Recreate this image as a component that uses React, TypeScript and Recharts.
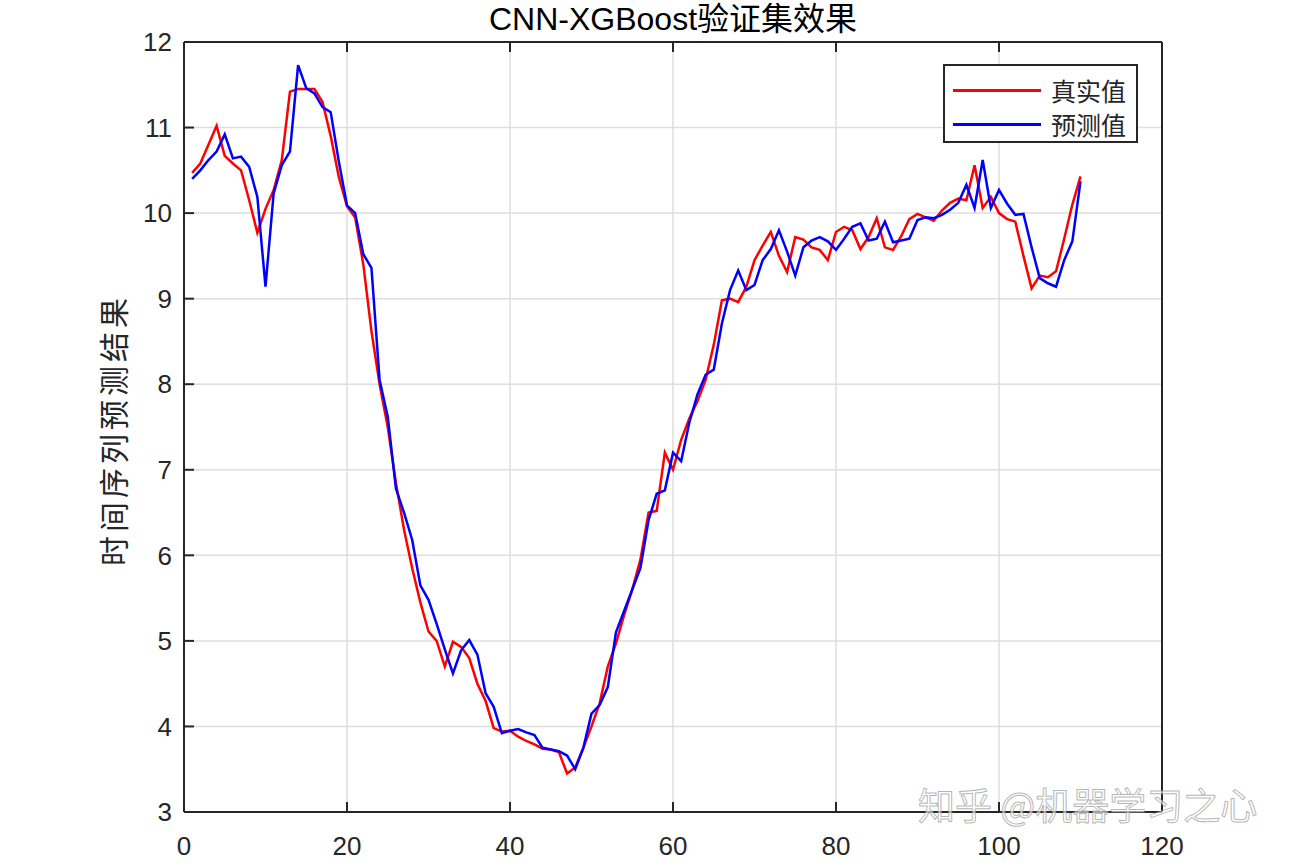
import { LineChart, Line, XAxis, YAxis, CartesianGrid } from 'recharts';

const xs = Array.from({ length: 110 }, (_, i) => i + 1);

const realValues = [
    10.47, 10.58, 10.8, 11.02, 10.67, 10.58, 10.5, 10.15, 9.77, 10.05,
    10.27, 10.62, 11.42, 11.45, 11.45, 11.45, 11.3, 10.9, 10.42, 10.08,
    9.95, 9.4, 8.62, 8.0, 7.5, 6.85, 6.3, 5.85, 5.45, 5.11,
    5.0, 4.7, 4.99, 4.93, 4.8, 4.5, 4.3, 3.98, 3.94, 3.95,
    3.88, 3.83, 3.79, 3.74, 3.73, 3.7, 3.45, 3.52, 3.75, 4.0,
    4.27, 4.7, 4.97, 5.3, 5.6, 5.95, 6.5, 6.52, 7.2, 7.0,
    7.35, 7.6, 7.8, 8.05, 8.46, 8.98, 9.0, 8.96, 9.14, 9.45,
    9.62, 9.78, 9.5, 9.31, 9.72, 9.69, 9.6, 9.57, 9.45, 9.78,
    9.84, 9.8, 9.58, 9.72, 9.94, 9.6, 9.57, 9.73, 9.93, 9.99,
    9.95, 9.91, 10.03, 10.12, 10.17, 10.15, 10.56, 10.06, 10.19, 10.0,
    9.93, 9.9, 9.5, 9.12, 9.27, 9.25, 9.32, 9.7, 10.1, 10.43,
];

const predValues = [
    10.4, 10.5, 10.62, 10.72, 10.92, 10.64, 10.66, 10.54, 10.19, 9.14,
    10.23, 10.56, 10.72, 11.73, 11.46, 11.4, 11.24, 11.18, 10.6, 10.09,
    10.0, 9.52, 9.36, 8.05, 7.62, 6.78, 6.5, 6.18, 5.65, 5.48,
    5.2, 4.9, 4.62, 4.89, 5.01, 4.84, 4.39, 4.23, 3.92, 3.95,
    3.97, 3.93, 3.9, 3.75, 3.73, 3.71, 3.66, 3.5, 3.75, 4.15,
    4.25, 4.46, 5.1, 5.35, 5.6, 5.85, 6.41, 6.72, 6.76, 7.2,
    7.1, 7.55, 7.88, 8.11, 8.17, 8.71, 9.1, 9.33, 9.1, 9.16,
    9.45, 9.58, 9.8, 9.55, 9.27, 9.6, 9.68, 9.72, 9.67, 9.57,
    9.7, 9.84, 9.88, 9.68, 9.7, 9.9, 9.66, 9.68, 9.7, 9.92,
    9.95, 9.94, 9.98, 10.04, 10.12, 10.33, 10.06, 10.62, 10.06, 10.27,
    10.11, 9.98, 9.99, 9.6, 9.24, 9.18, 9.14, 9.45, 9.67, 10.37,
];

const xTicks = [0, 20, 40, 60, 80, 100, 120];
const yTicks = [3, 4, 5, 6, 7, 8, 9, 10, 11, 12];

const data = xs.map((x, i) => ({ x, real: realValues[i], pred: predValues[i] }));

const font = '"Liberation Sans", Arial, "Noto Sans CJK SC", sans-serif';
const axisColor = '#262626';
const tickStyle = { fill: axisColor, fontSize: 26, fontFamily: font };

function LegendBox() {
    const rows = [
        { label: '真实值', color: '#ff0000' },
        { label: '预测值', color: '#0000ff' },
    ];
    return (
        <div
            style={{
                position: 'absolute',
                left: 943,
                top: 64,
                width: 195,
                height: 79,
                border: '2px solid #262626',
                background: '#fff',
                boxSizing: 'border-box',
                padding: '7px 0 0 8px',
            }}
        >
            {rows.map((r) => (
                <div key={r.label} style={{ display: 'flex', alignItems: 'center', height: 34 }}>
                    <div style={{ width: 88, height: 3, background: r.color }} />
                    <span
                        style={{
                            marginLeft: 10,
                            fontSize: 25,
                            color: axisColor,
                            fontFamily: '"Noto Sans CJK SC", sans-serif',
                            lineHeight: '34px',
                        }}
                    >
                        {r.label}
                    </span>
                </div>
            ))}
        </div>
    );
}

export default function App() {
    return (
        <div style={{ position: 'fixed', left: 0, top: 0, width: 1312, height: 866, background: '#fff' }}>
            <div
                style={{
                    position: 'absolute',
                    left: 184,
                    width: 978,
                    top: 0,
                    textAlign: 'center',
                    fontFamily: font,
                    fontSize: 32,
                    lineHeight: '38px',
                    color: '#000',
                }}
            >
                CNN-XGBoost验证集效果
            </div>
            <div
                style={{
                    position: 'absolute',
                    left: 112,
                    top: 430,
                    transform: 'translate(-50%, -50%) rotate(-90deg)',
                    whiteSpace: 'nowrap',
                    fontFamily: '"Noto Sans CJK SC", sans-serif',
                    fontSize: 30,
                    letterSpacing: 4,
                    color: axisColor,
                }}
            >
                时间序列预测结果
            </div>
            <LineChart
                width={1312}
                height={866}
                data={data}
                margin={{ top: 41, right: 149, bottom: 4, left: 104 }}
            >
                <CartesianGrid xAxisId="b" yAxisId="l" stroke="#dedede" strokeWidth={1.5} />
                <XAxis
                    xAxisId="b"
                    dataKey="x"
                    type="number"
                    domain={[0, 120]}
                    ticks={xTicks}
                    height={50}
                    tickSize={-10}
                    tickMargin={35}
                    stroke={axisColor}
                    strokeWidth={2}
                    tick={tickStyle}
                />
                <XAxis
                    xAxisId="t"
                    orientation="top"
                    dataKey="x"
                    type="number"
                    domain={[0, 120]}
                    ticks={xTicks}
                    height={1}
                    tickSize={-10}
                    stroke={axisColor}
                    strokeWidth={2}
                    tick={() => <g />}
                />
                <YAxis
                    yAxisId="l"
                    type="number"
                    domain={[3, 12]}
                    ticks={yTicks}
                    width={80}
                    tickSize={-10}
                    tickMargin={22}
                    stroke={axisColor}
                    strokeWidth={2}
                    tick={tickStyle}
                />
                <YAxis
                    yAxisId="r"
                    orientation="right"
                    type="number"
                    domain={[3, 12]}
                    ticks={yTicks}
                    width={1}
                    tickSize={-10}
                    stroke={axisColor}
                    strokeWidth={2}
                    tick={() => <g />}
                />
                <Line
                    xAxisId="b"
                    yAxisId="l"
                    name="真实值"
                    dataKey="real"
                    stroke="#ff0000"
                    strokeWidth={2.5}
                    dot={false}
                    isAnimationActive={false}
                />
                <Line
                    xAxisId="b"
                    yAxisId="l"
                    name="预测值"
                    dataKey="pred"
                    stroke="#0000ff"
                    strokeWidth={2.5}
                    dot={false}
                    isAnimationActive={false}
                />
            </LineChart>
            <LegendBox />
            <div
                style={{
                    position: 'absolute',
                    left: 918,
                    top: 786,
                    fontFamily: '"Noto Sans CJK SC", sans-serif',
                    fontSize: 37,
                    lineHeight: '37px',
                    color: 'rgba(255,255,255,0.6)',
                    WebkitTextStroke: '1px rgba(150,150,150,0.7)',
                    whiteSpace: 'nowrap',
                    pointerEvents: 'none',
                }}
            >
                知乎 @机器学习之心
            </div>
        </div>
    );
}
